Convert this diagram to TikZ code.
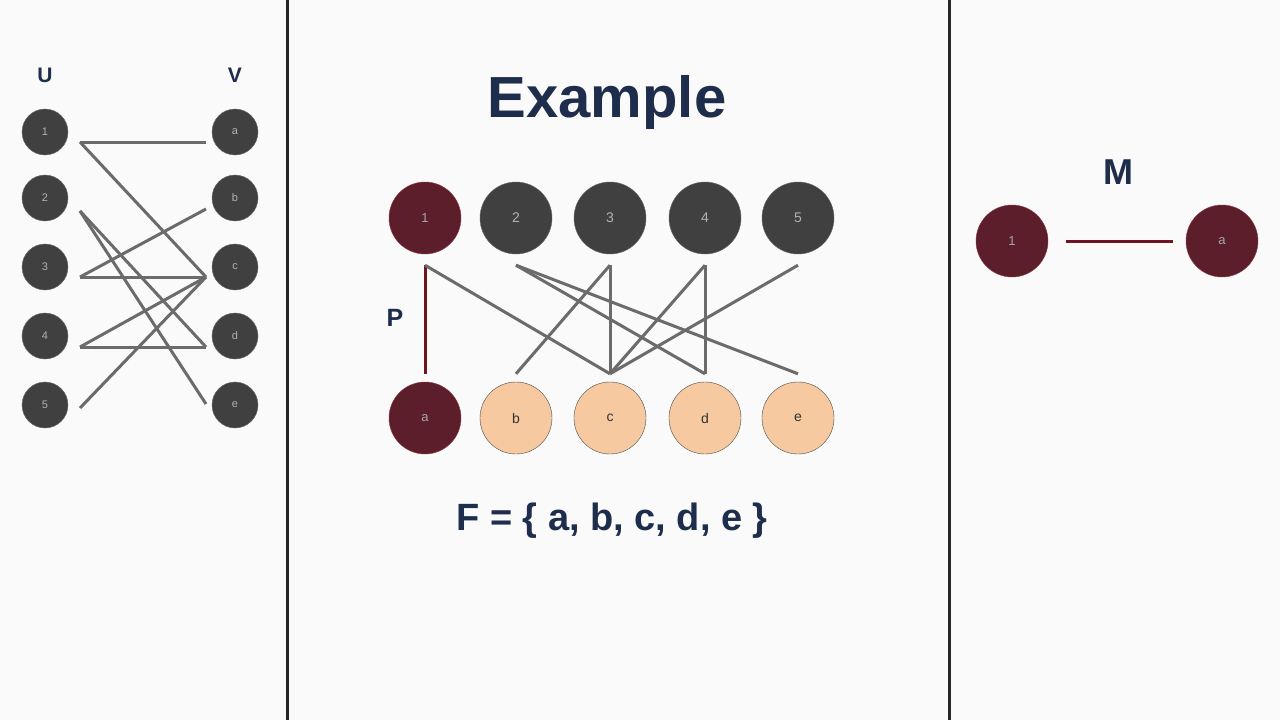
\documentclass[tikz,border=0pt]{standalone}
\usepackage{fontspec}
\setmainfont{Liberation Sans}
\begin{document}
\begin{tikzpicture}[x=1pt,y=-1pt,
  dk/.style={circle,fill=black!75,draw=black!60,text=black!30,font=\fontsize{11}{13}\selectfont,inner sep=0pt},
  rd/.style={circle,fill={rgb,255:red,92;green,30;blue,42},draw={rgb,255:red,140;green,60;blue,70},text=black!35,font=\fontsize{13}{15}\selectfont,inner sep=0pt},
  og/.style={circle,fill={rgb,255:red,246;green,201;blue,160},draw=black!70,text=black!80,font=\fontsize{14}{16}\selectfont,inner sep=0pt},
  ed/.style={draw=black!58,line width=3pt},
  red/.style={draw={rgb,255:red,110;green,20;blue,35},line width=3pt},
  ttl/.style={text={rgb,255:red,30;green,45;blue,75},font=\bfseries}]
\fill[white!98!black] (0,0) rectangle (1280,720);
\useasboundingbox (0,0) rectangle (1280,720);
\draw[line width=3pt,black!85] (287,0) -- (287,720);
\draw[line width=3pt,black!85] (949,0) -- (949,720);
% left
\node[ttl,font=\bfseries\fontsize{21}{24}\selectfont] (U) at (45,75) {U};
\node[ttl,font=\bfseries\fontsize{21}{24}\selectfont] (V) at (235,75) {V};
\foreach \n/\y in {1/132,2/198,3/267,4/336,5/405}{\node[dk,minimum size=46pt] (L\n) at (45,\y) {\n};}
\foreach \n/\y in {a/132,b/198,c/267,d/336,e/405}{\node[dk,minimum size=46pt] (R\n) at (235,\y) {\n};}
\foreach \n/\y in {1/142,2/211,3/277,4/347,5/408}{\coordinate (lo\n) at (80,\y);}
\foreach \n/\y in {a/142,b/209,c/277,d/347,e/404}{\coordinate (li\n) at (206,\y);}
\foreach \u/\v in {1/a,1/c,2/d,2/e,3/b,3/c,4/c,4/d,5/c}{\draw[ed] (lo\u) -- (li\v);}
% middle
\node[ttl,font=\bfseries\fontsize{58}{64}\selectfont] (T) at (607,103) {Example};
\node[rd,minimum size=72pt] (M1) at (425,218) {1};
\foreach \n/\x in {2/516,3/610,4/705,5/798}{\node[dk,minimum size=72pt,font=\fontsize{14}{16}\selectfont] (M\n) at (\x,218) {\n};}
\node[rd,minimum size=72pt] (Ma) at (425,418) {a};
\foreach \n/\x in {b/516,c/610,d/705,e/798}{\node[og,minimum size=72pt] (M\n) at (\x,418) {\n};}
\foreach \n in {1,...,5}{\coordinate (mt\n) at ([yshift=-11pt]M\n.south);}
\foreach \n in {a,b,c,d,e}{\coordinate (mb\n) at ([yshift=8pt]M\n.north);}
\draw[red] (mt1) -- (mba);
\foreach \u/\v in {1/c,2/d,2/e,3/b,3/c,4/c,4/d,5/c}{\draw[ed] (mt\u) -- (mb\v);}
\node[ttl,font=\bfseries\fontsize{25}{28}\selectfont] (P) at (395,318) {P};
\node[ttl,font=\bfseries\fontsize{38}{42}\selectfont] (F) at (612,521) {F = \{ a, b, c, d, e \}};
% right
\node[ttl,font=\bfseries\fontsize{36}{40}\selectfont] (M) at (1118,172) {M};
\node[rd,minimum size=72pt] (N1) at (1012,241) {1};
\node[rd,minimum size=72pt] (Na) at (1222,241) {a};
\draw[red] ([xshift=18pt]N1.east) -- ([xshift=-13pt]Na.west);
\end{tikzpicture}
\end{document}
